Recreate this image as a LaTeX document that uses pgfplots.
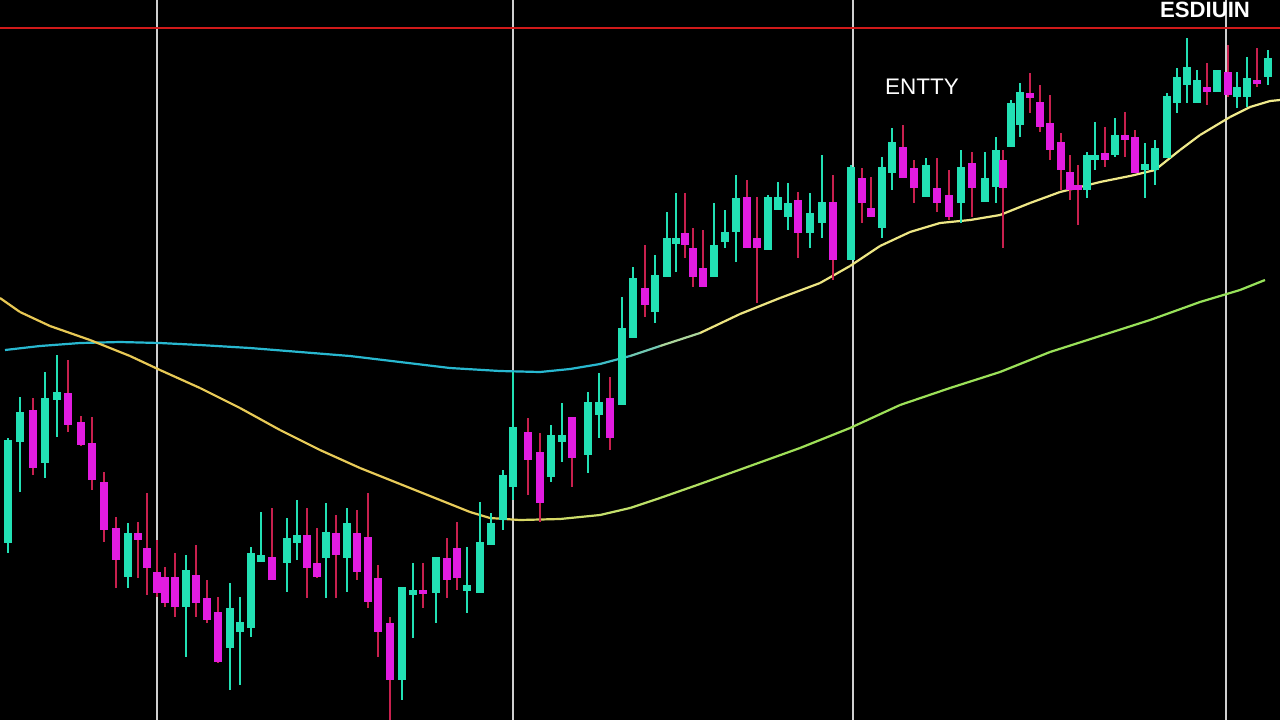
\documentclass[border=0pt]{standalone}
\usepackage{fontspec}
\setmainfont{Liberation Sans}
\usepackage{pgfplots}
\pgfplotsset{compat=1.18}
\usepackage{pgfplotstable}

\definecolor{upcol}{HTML}{22E0B4}
\definecolor{dncol}{HTML}{E21CE0}
\definecolor{dnwick}{HTML}{C8204E}
\definecolor{gridcol}{HTML}{CFCFCF}
\definecolor{redline}{HTML}{D01A1A}

\pgfplotsset{
  colormap={maA}{rgb255(0)=(40,184,208) rgb255(600)=(40,184,208) rgb255(720)=(236,228,128) rgb255(1280)=(240,234,140)},
  colormap={maB}{rgb255(0)=(232,200,84) rgb255(470)=(232,204,90) rgb255(600)=(200,224,110) rgb255(760)=(160,224,88) rgb255(1280)=(150,226,90)},
  candle/.style={draw=none, mark=none, forget plot, error bars/.cd, y dir=both, y explicit, error mark=none},
}

% candles in pixel units: x, body top, body bottom, high, low
\pgfplotstableread{
x top bot hi lo
8 440 543 438 553
20 412 442 397 492
45 398 463 372 478
57 392 400 355 437
128 533 577 523 588
186 570 607 555 657
230 608 648 583 690
240 622 632 597 685
251 553 628 547 637
261 555 562 512 562
287 538 563 518 592
297 535 543 500 560
326 532 558 503 598
347 523 558 508 592
402 587 680 587 700
413 590 595 563 638
436 557 593 557 623
467 585 591 547 613
480 542 593 502 593
491 523 545 513 545
503 475 520 470 530
513 427 487 372 500
551 435 477 425 482
562 435 442 403 462
588 402 455 392 473
599 402 415 373 438
622 328 405 297 405
633 278 338 267 338
655 275 312 255 323
667 238 277 212 277
676 238 244 193 272
714 245 277 203 277
725 232 242 210 248
736 198 232 175 262
768 197 250 195 250
778 197 210 182 210
788 203 217 183 230
810 213 233 193 248
822 202 223 155 238
851 167 260 165 260
882 167 228 157 238
892 142 173 128 190
926 165 197 158 197
961 167 203 150 223
985 178 202 152 202
996 150 187 137 203
1011 103 147 100 147
1020 92 125 83 137
1087 155 190 152 198
1095 155 160 122 170
1115 135 155 118 157
1145 164 170 143 198
1155 148 170 140 185
1167 96 158 93 158
1177 77 103 68 113
1187 67 85 38 103
1197 80 103 70 103
1217 70 92 70 92
1237 87 97 72 108
1247 78 97 57 107
1268 58 77 50 85
}\up

\pgfplotstableread{
x top bot hi lo
33 410 468 398 475
68 393 425 360 432
81 422 445 416 446
92 443 480 417 490
104 482 530 472 542
116 528 560 517 588
138 533 540 522 578
147 548 568 493 595
157 572 593 540 597
165 577 603 567 607
175 577 607 553 617
196 575 603 545 617
207 598 620 580 623
218 612 662 597 663
272 557 580 508 580
307 535 568 508 598
317 563 577 528 578
336 533 555 515 598
357 533 572 510 580
368 537 602 493 608
378 578 632 565 657
390 623 680 617 720
423 590 594 563 608
447 558 580 538 598
457 548 578 522 590
528 432 460 418 495
540 452 503 433 522
572 417 458 417 487
610 398 438 377 450
645 288 305 245 317
685 233 245 193 258
693 248 277 228 287
703 268 287 230 287
747 197 248 180 248
757 238 248 197 303
798 200 233 192 258
833 202 260 175 280
862 178 203 168 223
871 208 217 177 217
903 147 178 125 178
914 168 188 160 203
937 188 203 158 212
949 195 217 170 220
972 163 188 152 217
1003 160 188 150 248
1030 93 98 73 113
1040 102 127 85 132
1050 123 150 95 160
1061 142 170 133 190
1070 172 190 155 200
1078 185 190 165 225
1105 153 160 127 167
1125 135 140 112 157
1135 137 173 130 173
1207 87 92 63 105
1228 72 95 45 97
1257 80 84 48 87
}\down

\begin{document}
\begin{tikzpicture}
\fill[black] (0,0) rectangle (128mm,72mm);
\clip (0,0) rectangle (128mm,72mm);
\begin{axis}[
  at={(0,0)}, anchor=south west,
  scale only axis, width=128mm, height=72mm,
  xmin=0, xmax=1280, ymin=0, ymax=720, y dir=reverse,
  hide axis,
  point meta min=0, point meta max=1280,
]
% vertical session lines and the red level
\addplot[gridcol, line width=0.18mm] coordinates {(157,0) (157,720)};
\addplot[gridcol, line width=0.18mm] coordinates {(513,0) (513,720)};
\addplot[gridcol, line width=0.18mm] coordinates {(853,0) (853,720)};
\addplot[gridcol, line width=0.18mm] coordinates {(1226,0) (1226,720)};
\addplot[redline, line width=0.2mm] coordinates {(0,28) (1280,28)};

% moving averages
\addplot[mesh, colormap name=maA, point meta=x, line width=0.22mm] coordinates {
(5,350) (40,346) (80,343) (120,342) (160,343) (200,345) (250,348) (300,352)
(350,356) (400,362) (450,368) (500,371) (540,372) (570,369) (600,364) (630,356)
(660,346) (700,333) (740,314) (780,298) (820,283) (850,266) (880,246) (910,232)
(940,223) (970,220) (1000,215) (1030,203) (1060,192) (1100,182) (1130,176)
(1155,170) (1180,150) (1200,135) (1230,117) (1250,107) (1270,101) (1280,100)};
\addplot[mesh, colormap name=maB, point meta=x, line width=0.22mm] coordinates {
(0,298) (20,312) (50,326) (90,340) (130,356) (160,370) (200,388) (240,408)
(280,430) (320,450) (360,468) (400,484) (440,500) (470,512) (490,518) (520,520)
(560,519) (600,515) (630,508) (660,498) (700,484) (750,466) (800,448) (850,428)
(900,405) (950,388) (1000,372) (1050,352) (1100,336) (1150,320) (1200,302)
(1240,290) (1265,280)};

% wicks
\addplot[candle, error bar style={line width=0.2mm, draw=upcol}]
  table[x=x, y expr={(\thisrow{hi}+\thisrow{lo})/2}, y error expr={(\thisrow{lo}-\thisrow{hi})/2}] {\up};
\addplot[candle, error bar style={line width=0.2mm, draw=dnwick}]
  table[x=x, y expr={(\thisrow{hi}+\thisrow{lo})/2}, y error expr={(\thisrow{lo}-\thisrow{hi})/2}] {\down};
% bodies
\addplot[candle, error bar style={line width=0.85mm, draw=upcol}]
  table[x=x, y expr={(\thisrow{top}+\thisrow{bot})/2}, y error expr={(\thisrow{bot}-\thisrow{top})/2}] {\up};
\addplot[candle, error bar style={line width=0.85mm, draw=dncol}]
  table[x=x, y expr={(\thisrow{top}+\thisrow{bot})/2}, y error expr={(\thisrow{bot}-\thisrow{top})/2}] {\down};

\node[text=white, font=\fontsize{6.4}{7}\selectfont] at (axis cs:922,87) {ENTTY};
\node[text=white, font=\bfseries\fontsize{6.3}{7}\selectfont, anchor=base] at (axis cs:1205,17) {ESDIUIN};
\end{axis}
\end{tikzpicture}
\end{document}
